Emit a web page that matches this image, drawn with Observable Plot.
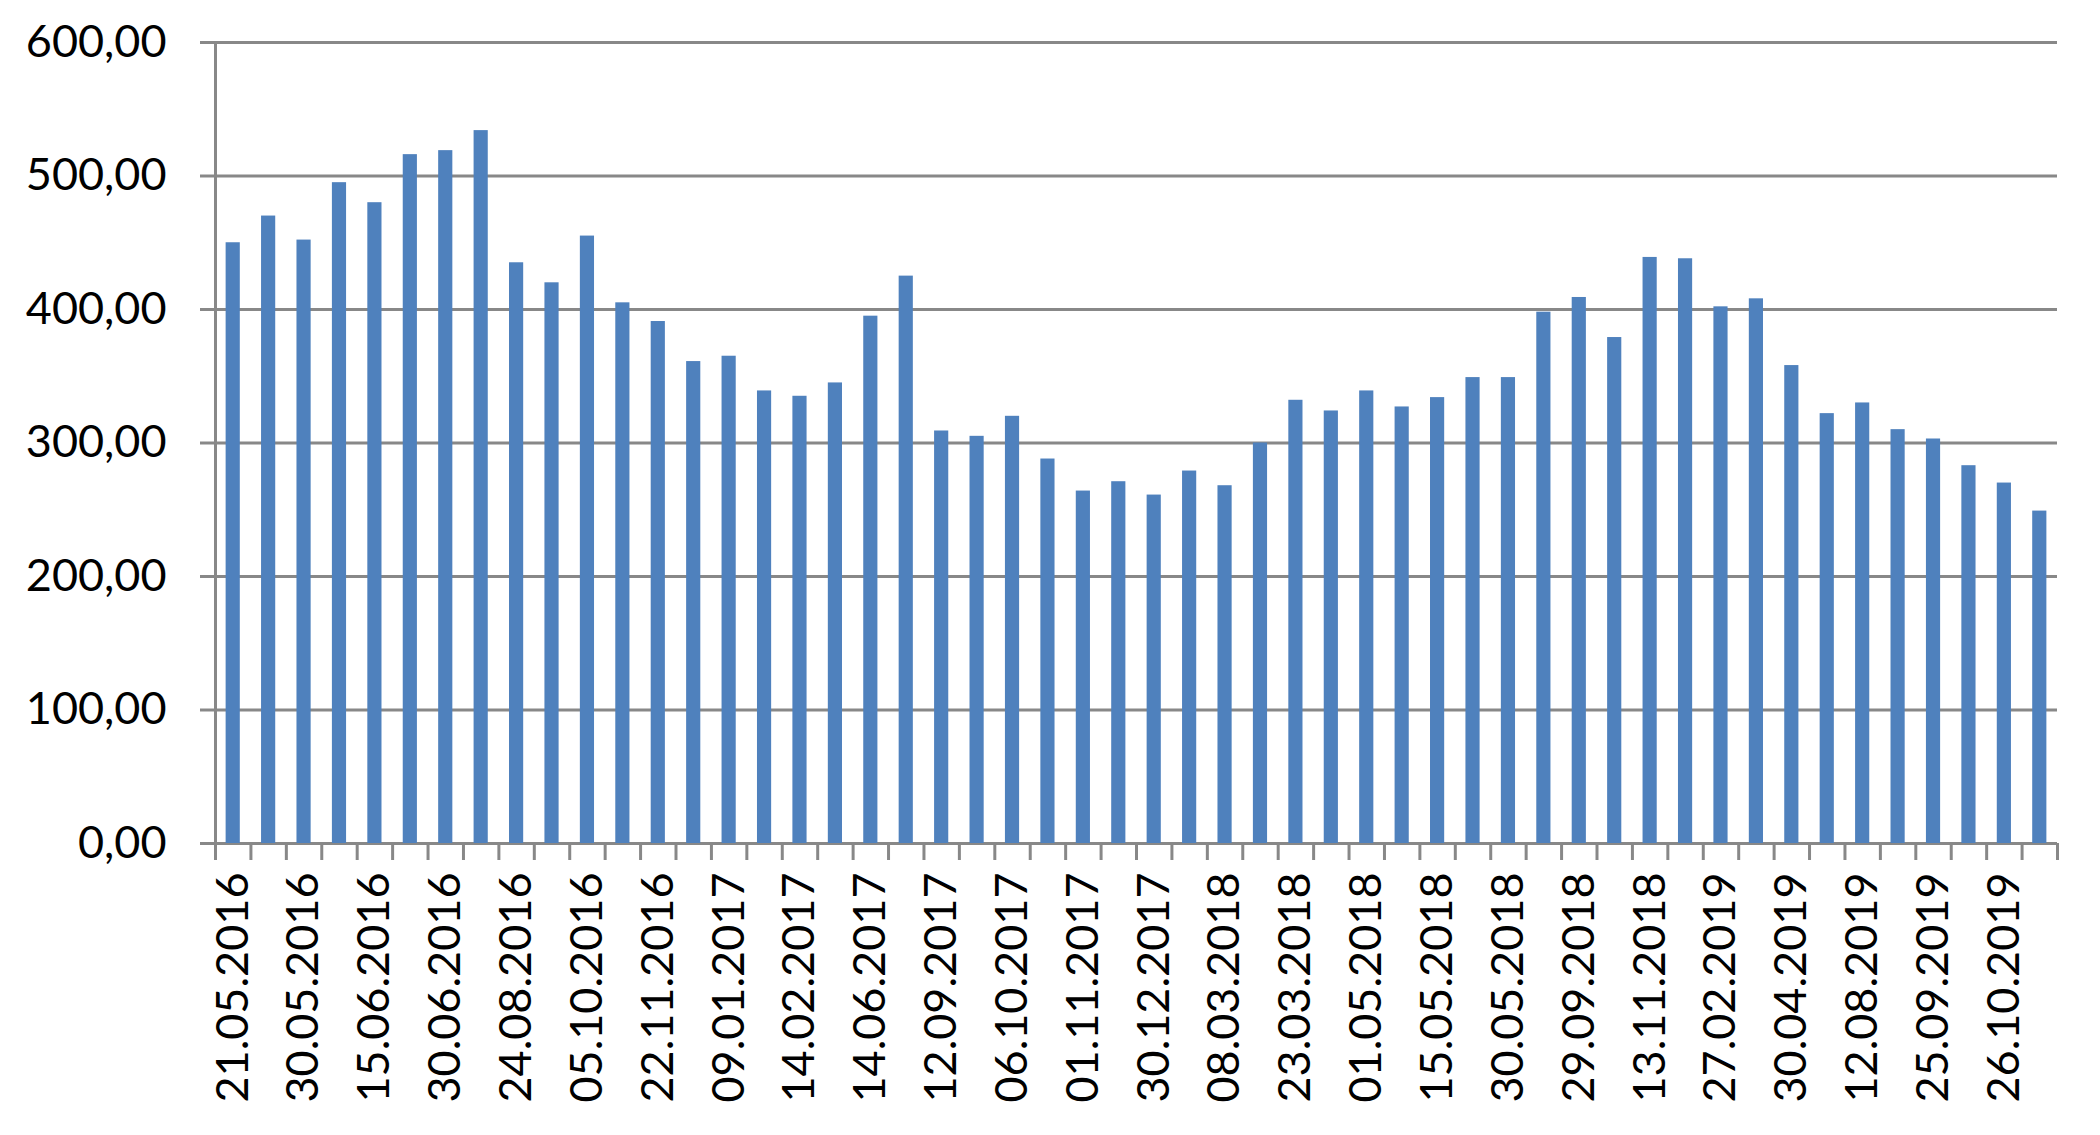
<!DOCTYPE html>
<html>
<head>
<meta charset="utf-8">
<script src="https://cdn.jsdelivr.net/npm/d3@7"></script>
<script src="https://cdn.jsdelivr.net/npm/@observablehq/plot@0.6"></script>
<style>
  html, body { margin: 0; padding: 0; background: #fff; }
  #chart { width: 2100px; height: 1135px; }
</style>
</head>
<body>
<div id="chart"></div>
<script>
// Tick labels shown under every other bar
const tickLabels = [
  "21.05.2016", "30.05.2016", "15.06.2016", "30.06.2016", "24.08.2016",
  "05.10.2016", "22.11.2016", "09.01.2017", "14.02.2017", "14.06.2017",
  "12.09.2017", "06.10.2017", "01.11.2017", "30.12.2017", "08.03.2018",
  "23.03.2018", "01.05.2018", "15.05.2018", "30.05.2018", "29.09.2018",
  "13.11.2018", "27.02.2019", "30.04.2019", "12.08.2019", "25.09.2019",
  "26.10.2019"
];

// Bar values (one per period, 52 periods)
const values = [
  450, 470, 452, 495, 480, 516, 519, 534, 435, 420,
  455, 405, 391, 361, 365, 339, 335, 345, 395, 425,
  309, 305, 320, 288, 264, 271, 261, 279, 268, 300,
  332, 324, 339, 327, 334, 349, 349, 398, 409, 379,
  439, 438, 402, 408, 358, 322, 330, 310, 303, 283,
  270, 249
];

const yTicks = [0, 100, 200, 300, 400, 500, 600];

const periods = values.map((_, i) => i);
const data = values.map((v, i) => ({period: i, value: v}));
const labelled = periods.filter(i => i % 2 === 0);

const W = 2100, H = 1135;
const mL = 215, mR = 43, mT = 42, mB = 292;
const step = (W - mL - mR) / periods.length;
const grid = "#888888";
const font = "Lato, 'Open Sans', sans-serif";

const fmt = d => d.toFixed(2).replace(".", ",");

const chart = Plot.plot({
  width: W,
  height: H,
  marginLeft: mL,
  marginRight: mR,
  marginTop: mT,
  marginBottom: mB,
  style: {fontFamily: font, background: "#fff", color: "#000"},
  x: {type: "band", domain: periods, padding: 0, round: false, axis: null, label: null},
  y: {domain: [0, 600], axis: null, label: null},
  marks: [
    Plot.gridY(yTicks, {stroke: grid, strokeOpacity: 1, strokeWidth: 3}),
    Plot.frame({anchor: "left", stroke: grid, strokeWidth: 3}),
    Plot.barY(data, {
      x: "period", y: "value", fill: "#4F81BD",
      insetLeft: step * 0.3, insetRight: step * 0.3
    }),
    Plot.axisY(yTicks, {
      anchor: "left", label: null, tickSize: 15, tickPadding: 34, tickFormat: fmt,
      stroke: grid, strokeWidth: 3, fill: "#000", fontSize: 45, fontFamily: font
    }),
    Plot.axisX(periods, {
      anchor: "bottom", label: null, tickSize: 17, tickFormat: null, dx: -step / 2,
      stroke: grid, strokeWidth: 3
    }),
    Plot.axisX([periods[periods.length - 1]], {
      anchor: "bottom", label: null, tickSize: 17, tickFormat: null, dx: step / 2,
      stroke: grid, strokeWidth: 3
    }),
    Plot.axisX(labelled, {
      anchor: "bottom", label: null, tickSize: 0, tickPadding: 29, tickRotate: -90,
      tickFormat: i => tickLabels[i / 2],
      fill: "#000", fontSize: 45, fontFamily: font
    })
  ]
});

document.getElementById("chart").appendChild(chart);
</script>
</body>
</html>
